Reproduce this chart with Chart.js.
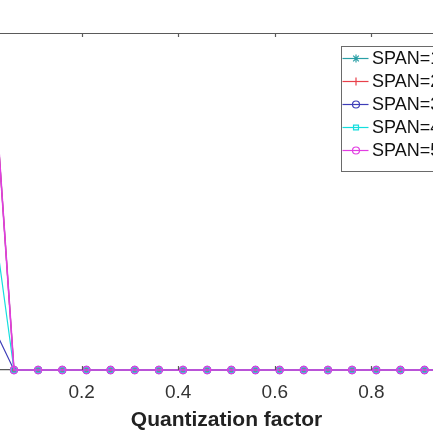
<!DOCTYPE html>
<html>
<head>
<meta charset="utf-8" />
<script src="https://cdn.jsdelivr.net/npm/chart.js@4.4.1/dist/chart.umd.min.js"></script>
<style>
  html, body { margin: 0; padding: 0; background: #fff; overflow: hidden; }
  #chart { position: absolute; left: -60px; top: 0; }
</style>
</head>
<body>
<canvas id="chart" width="580" height="433"></canvas>
<script>
// quantization factor values (first point lies just off the left edge)
const factors = [0.01, 0.06, 0.11, 0.16, 0.21, 0.26, 0.31, 0.36, 0.41, 0.46, 0.51,
                 0.56, 0.61, 0.66, 0.71, 0.76, 0.81, 0.86, 0.91, 0.96];
const seriesNames = ["SPAN=1", "SPAN=2", "SPAN=3", "SPAN=4", "SPAN=5"];
const span1 = [1.05, 0, 0, 0, 0, 0, 0, 0, 0, 0, 0, 0, 0, 0, 0, 0, 0, 0, 0, 0];
const span2 = [1.05, 0, 0, 0, 0, 0, 0, 0, 0, 0, 0, 0, 0, 0, 0, 0, 0, 0, 0, 0];
const span3 = [0.15, 0, 0, 0, 0, 0, 0, 0, 0, 0, 0, 0, 0, 0, 0, 0, 0, 0, 0, 0];
const span4 = [0.53, 0, 0, 0, 0, 0, 0, 0, 0, 0, 0, 0, 0, 0, 0, 0, 0, 0, 0, 0];
const span5 = [1.05, 0, 0, 0, 0, 0, 0, 0, 0, 0, 0, 0, 0, 0, 0, 0, 0, 0, 0, 0];
const xTicks = [0, 0.2, 0.4, 0.6, 0.8, 1];

const styles = [
  { color: "#2a9fa6", point: "star", r: 4 },
  { color: "#e8404a", point: "cross", r: 4 },
  { color: "#3d3db8", point: "circle", r: 3.5 },
  { color: "#14dede", point: "rect", r: 3.5 },
  { color: "#e23de2", point: "circle", r: 3.5 }
];
const allSeries = [span1, span2, span3, span4, span5];

const datasets = allSeries.map((vals, i) => ({
  label: seriesNames[i],
  data: vals.map((v, j) => ({ x: factors[j], y: v })),
  borderColor: styles[i].color,
  backgroundColor: "rgba(0,0,0,0)",
  pointBorderColor: styles[i].color,
  pointBackgroundColor: "rgba(0,0,0,0)",
  pointStyle: styles[i].point,
  pointRadius: styles[i].r,
  pointBorderWidth: 1.3,
  borderWidth: i === 4 ? 1.6 : 1.2,
  clip: false,
  order: 4 - i
}));

// box border, inward ticks and the legend
const frame = {
  id: "frame",
  afterDraw(chart) {
    const ctx = chart.ctx, a = chart.chartArea, xs = chart.scales.x;
    ctx.save();
    // white out anything above the plot box
    ctx.fillStyle = "#fff";
    ctx.fillRect(0, 0, chart.width, a.top);
    ctx.strokeStyle = "#5a5a5a";
    ctx.lineWidth = 1.2;
    ctx.beginPath();
    ctx.moveTo(a.left, a.top + 0.5);
    ctx.lineTo(a.right, a.top + 0.5);
    xTicks.forEach(t => {
      const px = Math.round(xs.getPixelForValue(t)) + 0.5;
      ctx.moveTo(px, a.top);
      ctx.lineTo(px, a.top + 4);
      ctx.moveTo(px, a.bottom);
      ctx.lineTo(px, a.bottom - 4);
    });
    ctx.stroke();

    // legend
    const lx = 401.5, ly = 46.5, lw = 150, lh = 125, rowH = 23;
    ctx.fillStyle = "#fff";
    ctx.fillRect(lx, ly, lw, lh);
    ctx.strokeStyle = "#6a6a6a";
    ctx.lineWidth = 1;
    ctx.strokeRect(lx, ly, lw, lh);
    ctx.font = "18px 'Liberation Sans', Arial, sans-serif";
    ctx.textBaseline = "middle";
    chart.data.datasets.forEach((ds, i) => {
      const y = ly + 12 + i * rowH;
      ctx.strokeStyle = ds.borderColor;
      ctx.lineWidth = 1.2;
      ctx.beginPath();
      ctx.moveTo(lx + 1, y);
      ctx.lineTo(lx + 27, y);
      ctx.stroke();
      ctx.fillStyle = "rgba(0,0,0,0)";
      Chart.helpers.drawPoint(ctx, { pointStyle: ds.pointStyle, radius: ds.pointRadius, rotation: 0, borderWidth: 1.2 }, lx + 14.5, y);
      ctx.fillStyle = "#111";
      ctx.fillText(ds.label, lx + 30.5, y + 1);
    });
    ctx.restore();
  }
};

new Chart(document.getElementById("chart"), {
  type: "line",
  data: { datasets: datasets },
  options: {
    responsive: false,
    animation: false,
    layout: { padding: { left: 45, right: 52, top: 33, bottom: 0 } },
    plugins: { legend: { display: false }, tooltip: { enabled: false } },
    scales: {
      x: {
        type: "linear",
        min: 0,
        max: 1,
        afterFit: s => { s.height = 63; },
        afterBuildTicks: s => { s.ticks = xTicks.map(v => ({ value: v })); },
        grid: { display: false, drawTicks: false },
        border: { display: true, color: "#5a5a5a", width: 1.2 },
        ticks: {
          padding: 11,
          color: "#333",
          font: { family: "'Liberation Sans', Arial, sans-serif", size: 19 },
          callback: v => (v === 0 || v === 1) ? String(v) : v.toFixed(1)
        },
        title: {
          display: true,
          text: "Quantization factor",
          color: "#222",
          padding: { top: 0, bottom: 0 },
          font: { family: "'Liberation Sans', Arial, sans-serif", size: 21, weight: "bold" }
        }
      },
      y: { display: false, min: 0, max: 1 }
    }
  },
  plugins: [frame]
});
</script>
</body>
</html>
